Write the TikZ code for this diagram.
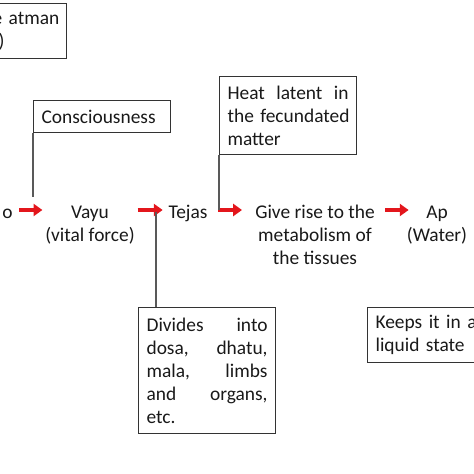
\documentclass[tikz,border=0pt]{standalone}
\usepackage{fontspec}
\setmainfont{Carlito}
\usetikzlibrary{arrows.meta}
\definecolor{flowred}{HTML}{E3161C}

\begin{document}
\begin{tikzpicture}[x=0.025cm, y=-0.025cm,
	every node/.style={font=\fontsize{13.8}{16.4}\selectfont, text=black!90},
	textbox/.style={draw=black!80, line width=0.8pt, inner xsep=0.2cm, align=left, anchor=north west},
	stage/.style={inner sep=0pt, align=center, anchor=north},
	flow/.style={flowred, line width=3.5pt, -{Triangle[length=0.22cm, width=0.3cm]}},
	link/.style={black!65, line width=0.8pt}]
	
	\useasboundingbox (0,0) rectangle (474,474);
	
	% Stages of the flow
	\node (start) at (13,218) [stage, anchor=base east]{o};
	\node (vayu) at (90,205.5) [stage]{Vayu\\(vital force)};
	\node (tejas) at (188,218) [stage, anchor=base]{Tejas};
	\node (giverise) at (315,204.5) [stage]{Give rise to the\\metabolism of\\the tissues};
	\node (ap) at (437,205.5) [stage]{Ap\\(Water)};
	
	% Arrows between the stages
	\coordinate (level) at (0,210);
	\draw[flow, shorten <=0.15cm, shorten >=0.065cm] (start.east |- level) -- (vayu.west |- level);
	\draw[flow, shorten <=0.065cm, shorten >=0.14cm] (vayu.east |- level) -- (tejas.west |- level);
	\draw[flow, shorten <=0.26cm, shorten >=0.325cm] (tejas.east |- level) -- (giverise.west |- level);
	\draw[flow, shorten <=0.25cm, shorten >=-0.05cm] (giverise.east |- level) -- (ap.west |- level);
	
	% Boxes
	\node (atman) at (-16,3) [textbox, text width=1.65cm, minimum height=1.375cm]{\mbox{e atman}\\\hspace*{0.15cm})};
	\node (conscious) at (33,100) [textbox, text width=3.025cm, minimum height=0.8cm]{Consciousness};
	\node (heat) at (219,76) [textbox, text width=3.025cm, minimum height=1.95cm]{Heat \hfill latent \hfill in\\\mbox{the fecundated}\\matter};
	\node (divides) at (138,307) [textbox, text width=3.025cm, minimum height=3.15cm]{Divides \hfill into\\dosa, \hfill dhatu,\\mala, \hfill limbs\\and \hfill organs,\\etc.};
	\node (keeps) at (367,307) [textbox, text width=3.2cm, minimum height=1.375cm]{Keeps it in a\\liquid state};
	
	% Linking the boxes to the flow
	\coordinate (consciousFoot) at (33,197);
	\coordinate (tejasRoot) at (156,212);
	\draw[link] (conscious.south west) -- (consciousFoot);
	\draw[link] (heat.south west) -- (heat.south west |- level);
	\draw[link] (tejasRoot) -- (tejasRoot |- divides.north);
	
\end{tikzpicture}
\end{document}
